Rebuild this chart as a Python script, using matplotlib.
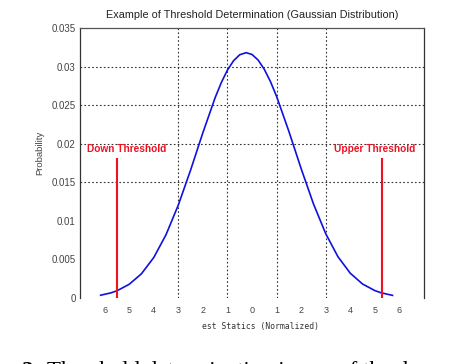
import matplotlib
matplotlib.use("Agg")
import matplotlib.pyplot as plt

# Curve points (normalized statistic, probability)
curve_x = [-6.16, -5.75, -5.5, -5.0, -4.5, -4.0, -3.5, -3.0, -2.5, -2.0, -1.5,
           -1.25, -1.0, -0.75, -0.5, -0.24, 0.0, 0.25, 0.5, 0.75, 1.0, 1.5,
           2.0, 2.5, 3.0, 3.5, 4.0, 4.5, 5.0, 5.25, 5.72]
curve_y = [0.00036, 0.00066, 0.00093, 0.00177, 0.00314, 0.00524, 0.0082, 0.01204,
           0.01657, 0.02142, 0.02597, 0.02792, 0.02954, 0.03076, 0.03153, 0.0318,
           0.03157, 0.03084, 0.02965, 0.02806, 0.02614, 0.02161, 0.01677, 0.01221,
           0.00834, 0.00534, 0.00321, 0.00181, 0.00096, 0.00068, 0.00034]

thresholds_x = [-5.5, 5.28]
threshold_top = 0.018
threshold_labels = ["Down Threshold", "Upper Threshold"]
label_x = [-6.73, 3.35]
label_y = 0.0193

xtick_values = [-6, -5, -4, -3, -2, -1, 0, 1, 2, 3, 4, 5, 6]
xtick_labels = ["6", "5", "4", "3", "2", "1", "0", "1", "2", "3", "4", "5", "6"]
ytick_values = [0, 0.005, 0.01, 0.015, 0.02, 0.025, 0.03, 0.035]
ytick_labels = ["0", "0.005", "0.01", "0.015", "0.02", "0.025", "0.03", "0.035"]
vgrid_x = [-3, -1, 1, 3]
hgrid_y = [0.015, 0.02, 0.025, 0.03]

title = "Example of Threshold Determination (Gaussian Distribution)"
xlabel = "est Statics (Normalized)"
ylabel = "Probability"
caption_num = "2."
caption = "Threshold determination is one of the d"

plt.rcParams['font.family'] = ['Liberation Sans', 'DejaVu Sans']

fig = plt.figure(figsize=(4.74, 3.64), dpi=100)
ax = fig.add_axes([80/474, 1-298/364, (424-80)/474, (298-28)/364])

ax.set_xlim(-7.0, 7.0)
ax.set_ylim(0, 0.035)

for gx in vgrid_x:
    ax.axvline(gx, color='#333333', linestyle=(0, (1.5, 2.0)), linewidth=0.8, zorder=1)
for gy in hgrid_y:
    ax.axhline(gy, color='#333333', linestyle=(0, (1.5, 2.0)), linewidth=0.8, zorder=1)

ax.plot(curve_x, curve_y, color='#1010e0', linewidth=1.2, zorder=3)

for tx in thresholds_x:
    ax.plot([tx, tx], [0, threshold_top], color='#ee1122', linewidth=1.5, zorder=4)
for lx, lt in zip(label_x, threshold_labels):
    ax.text(lx, label_y, lt, color='#ee1122', fontsize=7.3, fontweight='bold',
            ha='left', va='center', zorder=5)

ax.set_xticks(xtick_values)
ax.set_xticklabels(xtick_labels)
ax.set_yticks(ytick_values)
ax.set_yticklabels(ytick_labels)
ax.tick_params(axis='both', length=0, labelcolor='#444444')
ax.tick_params(axis='x', pad=6, labelsize=6.5)
ax.tick_params(axis='y', pad=3, labelsize=7)

ax.spines['bottom'].set_visible(False)
ax.spines['top'].set_color('#555555')
ax.spines['left'].set_color('#333333')
ax.spines['right'].set_color('#333333')
for s in ['top', 'left', 'right']:
    ax.spines[s].set_linewidth(0.9)

fig.text(252/474, 1-15/364, title, ha='center', va='center', fontsize=7.8, color='#222222')
fig.text(261/474, 1-326/364, xlabel, ha='center', va='center', fontsize=5.8,
         family='DejaVu Sans Mono', color='#333333')
fig.text(40/474, 1-153/364, ylabel, ha='center', va='center', fontsize=6.8,
         rotation=90, color='#444444')
fig.text(22/474, 1-377/364, caption_num, ha='left', va='baseline', fontsize=16.5,
         fontweight='bold', family=['Liberation Serif', 'DejaVu Serif'], color='black')
fig.text(47/474, 1-377/364, caption, ha='left', va='baseline', fontsize=16.5,
         family=['Liberation Serif', 'DejaVu Serif'], color='black')

fig.savefig("out.png", dpi=100)
